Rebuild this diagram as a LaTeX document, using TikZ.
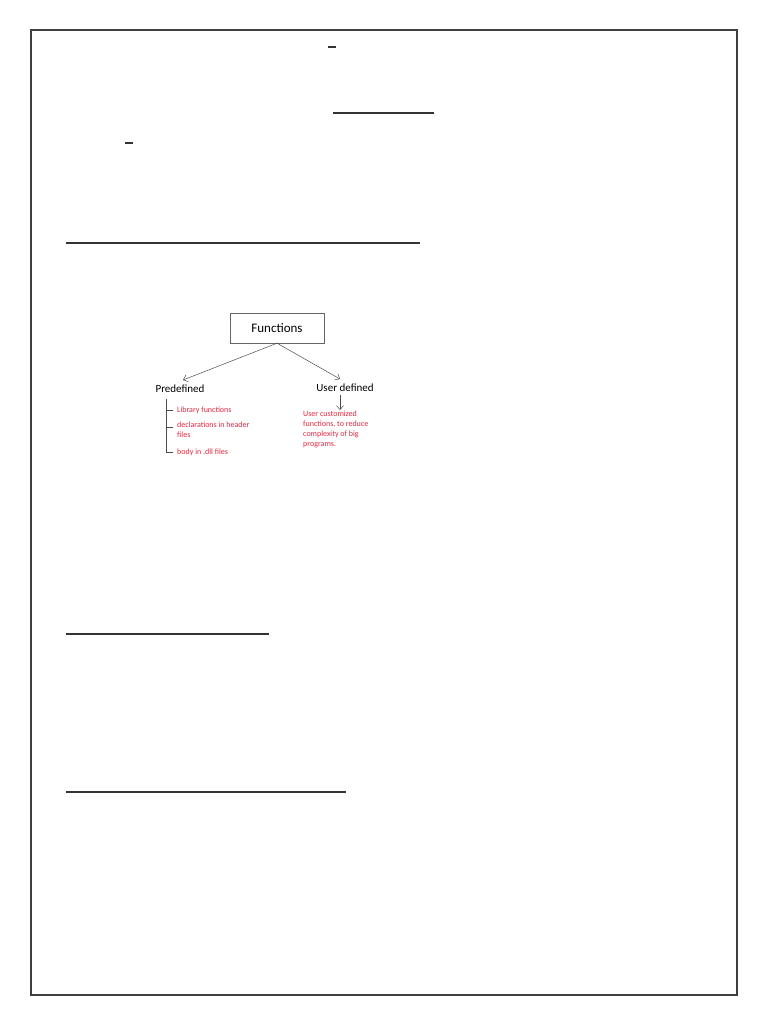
\documentclass[tikz,border=0pt]{standalone}
\usepackage{fontspec}
\setmainfont{Carlito}
\usepackage{tikz}
\usetikzlibrary{arrows.meta,positioning}

\definecolor{notered}{RGB}{228,40,64}

\begin{document}
\begin{tikzpicture}[x=1pt,y=-1pt,
  rule/.style={line width=1.2pt,draw=black!80},
  box/.style={draw=black!60,minimum width=94pt,minimum height=30pt,font=\fontsize{13}{15}\selectfont},
  head/.style={font=\fontsize{11}{13}\selectfont},
  note/.style={text=notered,font=\fontsize{8}{10}\selectfont,align=left,inner sep=0pt},
  twig/.style={draw=black!70,line width=0.5pt},
  link/.style={draw=black!70,line width=0.5pt,-{Straight Barb[length=4pt,width=7pt]}}]

% page and frame
\useasboundingbox (0,0) rectangle (768,1024);
\fill[white] (0,0) rectangle (768,1024);
\draw[line width=1.2pt,black!75] (31,30) rectangle (737,995);

% heading rules
\draw[rule] (328,47) -- (336,47);
\draw[rule] (333,113) -- (434,113);
\draw[rule] (125,143) -- (133,143);
\draw[rule] (66,243) -- (420,243);
\draw[rule] (66,634) -- (269,634);
\draw[rule] (66,792) -- (346,792);

% tree
\node[box] (fn) at (277,328) {Functions};
\node[head] (pre) at (180,389) {Predefined};
\node[head] (usr) at (345,388) {User defined};

\draw[link] (fn.south) -- (183,380);
\draw[link] (fn.south) -- (340,379);

% predefined branches
\coordinate (trunk) at (166,399);
\node[note,anchor=west] (lib) at (177,410) {Library functions};
\node[note,anchor=north west] (decl) at (177,422) {declarations in header\\files};
\node[note,anchor=west] (body) at (177,452) {body in .dll files};

\draw[twig] (trunk) -- (166,452);
\draw[twig] (166,410) -- ([xshift=-4pt]lib.west);
\draw[twig] (166,427) -- ([xshift=-4pt]decl.north west |- 0,427);
\draw[twig] (166,452) -- ([xshift=-4pt]body.west);

% user defined note
\node[note,anchor=north west] (cust) at (303,411) {User customized\\functions, to reduce\\complexity of big\\programs.};
\draw[link] (usr.south -| 340,0) -- (340,410);

\end{tikzpicture}
\end{document}
